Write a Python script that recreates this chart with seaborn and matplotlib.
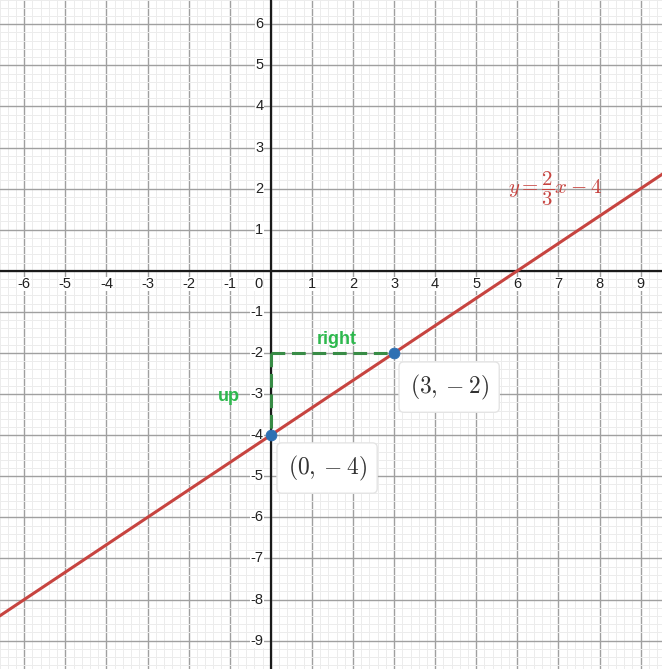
import numpy as np
import pandas as pd
import matplotlib
matplotlib.use('Agg')
import matplotlib.pyplot as plt
import seaborn as sns

# line y = 2/3 x - 4
slope = 2 / 3
intercept = -4
line_x = [-6.6, 9.6]
line_y = [slope * v + intercept for v in line_x]

# marked points and their labels
point_x = [0, 3]
point_y = [-4, -2]
point_labels = [r'$(0,-4)$', r'$(3,-2)$']

# rise/run guide
run_x = [0, 3]
run_y = [-2, -2]
rise_x = [0, 0]
rise_y = [-2, -4]

x_ticks = [-6, -5, -4, -3, -2, -1, 1, 2, 3, 4, 5, 6, 7, 8, 9]
y_ticks = [-9, -8, -7, -6, -5, -4, -3, -2, -1, 1, 2, 3, 4, 5, 6]

xlim = (-6.59, 9.52)
ylim = (-9.69, 6.59)

sns.set_theme(style='white')
plt.rcParams['font.family'] = ['Liberation Sans', 'DejaVu Sans']
plt.rcParams['mathtext.fontset'] = 'cm'

fig = plt.figure(figsize=(6.62, 6.69), dpi=100)
ax = fig.add_axes([0, 0, 1, 1])
ax.set_xlim(*xlim)
ax.set_ylim(*ylim)

# grid
for v in np.arange(-7, 10.01, 0.2):
    major = abs(v - round(v)) < 1e-6
    ax.axvline(v, color='#a0a0a0' if major else '#ececec', lw=1.0 if major else 0.7, zorder=0)
for v in np.arange(-10, 7.01, 0.2):
    major = abs(v - round(v)) < 1e-6
    ax.axhline(v, color='#a0a0a0' if major else '#ececec', lw=1.0 if major else 0.7, zorder=0)
ax.axhline(0, color='#1a1a1a', lw=1.6, zorder=1)
ax.axvline(0, color='#1a1a1a', lw=1.6, zorder=1)
for s in ax.spines.values():
    s.set_visible(False)
ax.set_xticks([])
ax.set_yticks([])

# tick labels
for t in x_ticks:
    ax.text(t, -0.32, f'{t}', ha='center', va='center', fontsize=10.5, color='#222222',
            bbox=dict(fc='white', ec='none', pad=0.2), zorder=2)
for t in y_ticks:
    ax.text(-0.18, t, f'{t}', ha='right', va='center', fontsize=10.5, color='#222222',
            bbox=dict(fc='white', ec='none', pad=0.2), zorder=2)
ax.text(-0.2, -0.32, '0', ha='right', va='center', fontsize=10.5, color='#222222',
        bbox=dict(fc='white', ec='none', pad=0.2), zorder=2)

# dashed rise/run
ax.plot(run_x, run_y, color='#388c46', lw=2.2, dashes=(4.5, 2.2), zorder=3)
ax.plot(rise_x, rise_y, color='#388c46', lw=2.2, dashes=(4.5, 2.2), zorder=3)
ax.text(1.6, -1.68, 'right', color='#2db84d', fontsize=13, fontweight='bold', ha='center', va='center', zorder=4)
ax.text(-1.02, -3.05, 'up', color='#2db84d', fontsize=13, fontweight='bold', ha='center', va='center', zorder=4)

# main line
df = pd.DataFrame({'x': line_x, 'y': line_y})
sns.lineplot(data=df, x='x', y='y', color='#c74440', lw=2.2, ax=ax, zorder=5)
ax.set_xlabel('')
ax.set_ylabel('')

# points
pts = pd.DataFrame({'x': point_x, 'y': point_y})
sns.scatterplot(data=pts, x='x', y='y', color='#2d70b3', s=60, edgecolor='#2d70b3', ax=ax, zorder=6)
ax.set_xlabel('')
ax.set_ylabel('')

# point labels
label_pos = [(1.37, -4.8), (4.34, -2.83)]
for (lx, ly), lab in zip(label_pos, point_labels):
    ax.text(lx, ly, lab, fontsize=17, color='#333333', ha='center', va='center', zorder=7,
            bbox=dict(boxstyle='round,pad=0.45,rounding_size=0.2', fc='white', ec='#e4e4e4', lw=1))

# equation label
ax.text(6.92, 2.0, r'$y=\dfrac{2}{3}x-4$', color='#c74440', fontsize=15, ha='center', va='center',
        zorder=7)

fig.savefig('out.png', dpi=100)
